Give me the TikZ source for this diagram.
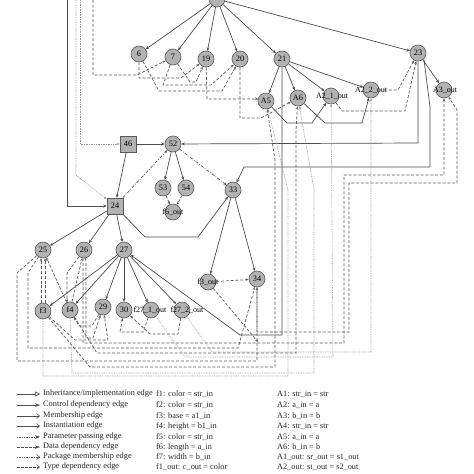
\documentclass[tikz,border=0pt]{standalone}
\usepackage{fontspec}
\setmainfont{Liberation Serif}
\usetikzlibrary{arrows.meta}
\begin{document}
\begin{tikzpicture}[x=1pt,y=-1pt,
  vert/.style={circle,draw=black!65,fill=black!30,minimum size=16pt,inner sep=0pt,line width=0.6pt,font=\fontsize{8.3}{9}\selectfont},
  sq/.style={rectangle,draw=black!65,fill=black!30,minimum size=16pt,inner sep=0pt,line width=0.6pt,font=\fontsize{8.3}{9}\selectfont},
  lab/.style={font=\fontsize{8}{9}\selectfont,inner sep=0pt},
  leg/.style={font=\fontsize{8.3}{9}\selectfont,inner sep=0pt,anchor=west,text=black!85},
  sol/.style={draw=black!70,line width=0.7pt,-{Stealth[length=3.5pt,width=3pt]}},
  dd/.style={draw=black!65,line width=0.7pt,dash pattern=on 3pt off 1.8pt,-{Stealth[length=3pt,width=2.5pt]}},
  pp/.style={draw=black!40,line width=0.6pt,dash pattern=on 0.8pt off 0.9pt,-{Stealth[length=3pt,width=2.5pt]}},
  dc/.style={draw=black!65,line width=0.7pt,dash pattern=on 3pt off 1.5pt on 0.8pt off 1.5pt,-{Stealth[length=3pt,width=2.5pt]}},
  lsolid/.style={solid},
  ldot/.style={dash pattern=on 0.8pt off 0.9pt},
  ldash/.style={dash pattern=on 2.5pt off 1.5pt},
  topen/.style={-{Triangle[open,length=5pt,width=5pt]}},
  tfill/.style={-{Stealth[length=5pt,width=3.5pt]}},
  tbarb/.style={-{Straight Barb[length=3pt,width=5pt]}},
]
\useasboundingbox (0,0) rectangle (474,474);
\clip (0,0) rectangle (474,474);
\fill[white] (0,0) rectangle (474,474);

% ---------- nodes ----------
\node[vert] (top) at (217,-1) {};
\node[vert] (n6) at (139,54) {6};
\node[vert] (n7) at (173,57) {7};
\node[vert] (n19) at (206,59) {19};
\node[vert] (n20) at (240,59) {20};
\node[vert] (n21) at (282,59) {21};
\node[vert] (n23) at (418,53) {23};
\node[vert] (A5) at (266,101) {A5};
\node[vert] (A6) at (298,98) {A6};
\node[vert] (A21) at (331,96) {};
\node[vert] (A22) at (371,90) {};
\node[vert] (A3o) at (444,90) {};
\node[sq] (n46) at (128,144) {46};
\node[vert] (n52) at (173,144) {52};
\node[vert] (n53) at (163,188) {53};
\node[vert] (n54) at (186,188) {54};
\node[vert] (f6o) at (173,212) {};
\node[vert] (n33) at (233,190) {33};
\node[sq] (n24) at (115,206) {24};
\node[vert] (n25) at (43,250) {25};
\node[vert] (n26) at (84,250) {26};
\node[vert] (n27) at (124,250) {27};
\node[vert] (f3o) at (208,282) {};
\node[vert] (n34) at (257,279) {34};
\node[vert] (f3) at (43,311) {f3};
\node[vert] (f4) at (70,310) {f4};
\node[vert] (n29) at (103,307) {29};
\node[vert] (n30) at (124,310) {30};
\node[vert] (f271) at (151,310) {};
\node[vert] (f272) at (182,310) {};

\node[lab] (A21l) at (332,96) {A2\_1\_out};
\node[lab] (A22l) at (371,90) {A2\_2\_out};
\node[lab] (A3ol) at (445,90) {A3\_out};
\node[lab] (f6ol) at (173,212) {f6\_out};
\node[lab] (f3ol) at (208,282) {f3\_out};
\node[lab] (f271l) at (150,310) {f27\_1\_out};
\node[lab] (f272l) at (187,310) {f27\_2\_out};

\coordinate (tl1) at (67,-5);
\coordinate (tl2) at (76,-5);
\coordinate (tl3) at (80,-5);
\coordinate (tl4) at (93,-5);
\coordinate (jf3o) at (258,342);

% ---------- solid edges ----------
\draw[sol] (top) -- (n6);
\draw[sol] (top) -- (n7);
\draw[sol] (top) -- (n19);
\draw[sol] (top) -- (n20);
\draw[sol] (top) -- (n21);
\draw[sol] (top) -- (n23);
\draw[sol] (n21) -- (A5);
\draw[sol] (n21) -- (A6);
\draw[sol] (n21) -- (A21);
\draw[sol] (n21) -- (A22);
\draw[sol] (A5) -- (287,123) -- (312,123) -- (A21);
\draw[sol] (A6) -- (325,123) -- (362,123) -- (A22);
\draw[sol] (n23) -- (A3o);
\draw[sol] (n23.south) -- (418,143) -- (n52);
\draw[sol] (n23.south east) -- (430,107) -- (430,167) -- (244,167) -- (n33);
\draw[sol] (n21.south) -- (282,335) -- (240,335) -- (n27);
\draw[sol] (tl1) -- (67,206) -- (n24);
\draw[sol] (n46) -- (n24);
\draw[sol] (n46) -- (n52);
\draw[sol] (n52) -- (n53);
\draw[sol] (n52) -- (n54);
\draw[sol] (n24) -- (n25);
\draw[sol] (n24) -- (n26);
\draw[sol] (n24) -- (n27);
\draw[sol] (n24) -- (145,237) -- (198,237) -- (n33);
\draw[sol] (n33) -- (f3o);
\draw[sol] (n33) -- (n34);
\draw[sol] (n27) -- (f3);
\draw[sol] (n27) -- (f4);
\draw[sol] (n27) -- (n29);
\draw[sol] (n27) -- (n30);
\draw[sol] (n27) -- (f271);
\draw[sol] (n27) -- (f272);

% ---------- dash-dot ----------
\draw[dc] (n24) -- (n52);
\draw[dc] (n52) -- (n33);

% ---------- dashed (data dependency) ----------
\draw[dd] (tl4) -- (93,75) -- (137,75) -- (n7);
\draw[dd] (n6) -- (139,78) -- (181,78) -- (n19);
\draw[dd] (n7) -- (163,85) -- (211,85) -- (n20);
\draw[dd] (n6) -- (159,91) -- (222,91) -- (n20);
\draw[dd] (n7) -- (190,82) -- (196,82) -- (n19);
\draw[dd] (n19) -- (207,99) -- (257,99) -- (A5);
\draw[dd] (n20) -- (240,118) -- (261,118) -- (A6);
\draw[dd] (A21) -- (342,111) -- (405,111) -- (n23);
\draw[dd] (A22) -- (398,90) -- (n23);
\draw[dd] (n53) -- (f6o);
\draw[dd] (n54) -- (f6o);
\draw[dd] (f3o) -- (n34);
\draw[dd] (n34) -- (257,332) -- (349,332) -- (349,183) -- (457,183) -- (457,110) -- (A3o);
\draw[dd] (n26) -- (83,262) -- (83,343) -- (344,343) -- (344,175) -- (444,175) -- (A3o);
\draw[dd] (f3o) -- (jf3o);
\draw[dd] (f3) -- (90,367) -- (275,367) -- (275,160) -- (A5);
\draw[dd] (f4) -- (97,353) -- (296,353) -- (296,130) -- (A6);
\draw[dd] (n25) -- (17,273) -- (17,361) -- (257,361) -- (n34);
\draw[dd] (n25) -- (28,273) -- (28,348) -- (238,348) -- (n34);
\draw[dd] ([xshift=-2pt]f3.north) -- ([xshift=-2pt]n25.south);
\draw[dd] ([xshift=2pt]f3.north) -- ([xshift=2pt]n25.south);
\draw[dd] (f4) -- (n25);
\draw[dd] (f4) -- (n26);
\draw[dd] (n26) -- (67,273) -- (67,300) -- (f4);
\draw[dd] (n26) -- (86,262) -- (86,338) -- (93,338) -- (n29);
\draw[dd] (f271) -- (143,332) -- (120,332) -- (n30);
\draw[dd] (f272) -- (178,334) -- (150,334) -- (n30);
\draw[dd] (n29) -- (92,326) -- (79,326) -- (f4);
\draw[dd] (f3) -- (75,340) -- (108,340) -- (n29);

% ---------- dotted (parameter passing) ----------
\draw[pp] (tl3) -- (80,144) -- (n46);
\draw[pp] (tl2) -- (76,175) -- (n24);
\draw[pp] (f3) -- (43,376) -- (288,376) -- (288,190) -- (A5);
\draw[pp] (f4) -- (72,373) -- (314,373) -- (314,190) -- (A6);
\draw[pp] (f271) -- (185,357) -- (333,357) -- (A21);
\draw[pp] (f272) -- (212,352) -- (371,352) -- (A22);

% ---------- legend ----------
\foreach \y/\st/\tip/\txt [count=\i] in {
  394/lsolid/topen/{Inheritance/implementation edge},
  405/lsolid/tfill/{Control dependency edge},
  416/lsolid/tbarb/{Membership edge},
  426/lsolid/tbarb/{Instantiation edge},
  437/ldot/tfill/{Parameter passing edge},
  447/ldash/tfill/{Data dependency edge},
  457/ldot/tbarb/{Package membership edge},
  467/ldash/tbarb/{Type dependency edge}} {
  \coordinate (ls\i) at (17,\y);
  \node[leg] (lt\i) at (43,\y) {\txt};
  \draw[draw=black!70,line width=0.6pt,\st,\tip] (ls\i) -- ([xshift=-3pt]lt\i.west);
}
\node[leg] (m1) at (156,394) {f1: color = str\_in};
\node[leg] (m2) at (156,405) {f2: color = str\_in};
\node[leg] (m3) at (156,416) {f3: base = a1\_in};
\node[leg] (m4) at (156,426) {f4: height = b1\_in};
\node[leg] (m5) at (156,437) {f5: color = str\_in};
\node[leg] (m6) at (156,447) {f6: length = a\_in};
\node[leg] (m7) at (156,457) {f7: width = b\_in};
\node[leg] (m8) at (156,467) {f1\_out: c\_out = color};
\node[leg] (r1) at (277,394) {A1: str\_in = str};
\node[leg] (r2) at (277,405) {A2: a\_in = a};
\node[leg] (r3) at (277,416) {A3: b\_in = b};
\node[leg] (r4) at (277,426) {A4: str\_in = str};
\node[leg] (r5) at (277,437) {A5: a\_in = a};
\node[leg] (r6) at (277,447) {A6: b\_in = b};
\node[leg] (r7) at (277,457) {A1\_out: sr\_out = s1\_out};
\node[leg] (r8) at (277,467) {A2\_out: st\_out = s2\_out};
\end{tikzpicture}
\end{document}
